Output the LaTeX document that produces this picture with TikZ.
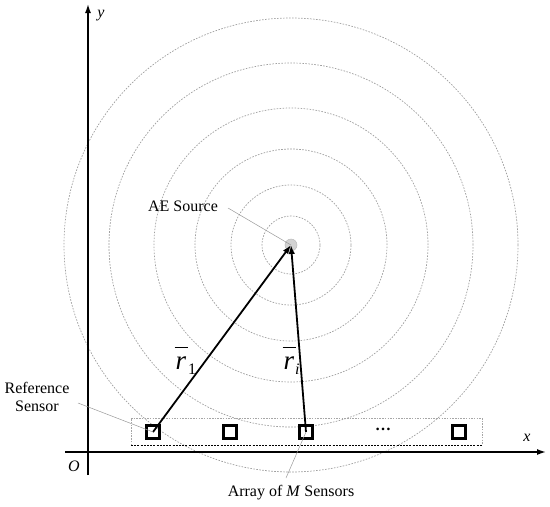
\documentclass[tikz,border=0pt]{standalone}
\usepackage{fontspec}
\setmainfont{Liberation Serif}
\usetikzlibrary{arrows.meta}
\begin{document}
\begin{tikzpicture}[x=1pt,y=-1pt,
  wave/.style={draw=gray!75,line width=0.7pt,dash pattern=on 1.6pt off 1.4pt},
  axis/.style={line width=1.5pt,-{Latex[length=9pt,width=6pt]}},
  ray/.style={line width=1.8pt,-{Latex[length=9pt,width=6.5pt]}},
  leader/.style={draw=gray!80,line width=0.5pt},
  sensorbox/.style={draw,line width=2.2pt,minimum size=13pt,inner sep=0pt},
  lbl/.style={font=\fontsize{16}{18}\selectfont,inner sep=0pt},
  vlbl/.style={font=\fontsize{27}{28}\selectfont\itshape,inner sep=0pt},
  sublbl/.style={font=\fontsize{16}{17}\selectfont,inner sep=0pt},
  vbar/.style={line width=0.8pt}]
\useasboundingbox (0,0) rectangle (550,507);
% source and wavefronts
\node[circle,fill=gray!35,draw=gray!55,line width=0.5pt,minimum size=12pt,inner sep=0pt] (src) at (291,245) {};
\foreach \r in {29,60,96,137,182,227}
  \draw[wave] (src.center) circle[radius=\r pt];
% axes
\coordinate (xs) at (65,452);
\coordinate (xe) at (546,452);
\coordinate (ys) at (88,475);
\coordinate (ye) at (88,4);
\draw[axis] (xs) -- (xe);
\draw[axis] (ys) -- (ye);
\node[lbl] (xl) at (527,438) {\textit{x}};
\node[lbl] (yl) at (101,16) {\textit{y}};
\node[lbl] (ol) at (74,466) {\textit{O}};
% array box
\coordinate (bl) at (131,445);
\coordinate (br) at (482,445);
\coordinate (tr) at (482,418);
\coordinate (tl) at (131,418);
\draw[draw=gray!70,line width=0.5pt,dash pattern=on 1.5pt off 1.2pt] (bl) -- (tl) -- (tr) -- (br);
\draw[line width=0.6pt,dash pattern=on 2pt off 1.2pt] (bl) -- (br);
% sensors
\node[sensorbox] (s1) at (153,432) {};
\node[sensorbox] (s2) at (230,432) {};
\node[sensorbox] (s3) at (306,432) {};
\node[sensorbox] (s4) at (459,432) {};
\node[font=\fontsize{16}{18}\selectfont\bfseries,inner sep=0pt] (dots) at (383,429) {\textbf{…}};
% rays
\draw[ray] (s1.center) -- (src.center);
\draw[ray] (s3.center) -- (src.center);
\node[vlbl,anchor=base] (r1) at (181,369) {r};
\node[sublbl,anchor=base west] (r1s) at ([xshift=1.5pt,yshift=-5pt]r1.base east) {1};
\draw[vbar] ([xshift=-1pt,yshift=9pt]r1.north west) -- ([xshift=2pt,yshift=9pt]r1.north east);
\node[vlbl,anchor=base] (ri) at (289,369) {r};
\node[sublbl,anchor=base west] (ris) at ([xshift=0.5pt,yshift=-5pt]ri.base east) {\textit{i}};
\draw[vbar] ([xshift=-1pt,yshift=9pt]ri.north west) -- ([xshift=2pt,yshift=9pt]ri.north east);
% labels with leaders
\node[lbl] (ae) at (183,206) {AE Source};
\coordinate (aeA) at (228,208);
\draw[leader] (aeA) -- (src.center);
\node[lbl,align=center] (ref) at (37,397) {Reference\\Sensor};
\coordinate (refA) at (78,403);
\draw[leader] (refA) -- (s1.center);
\node[lbl] (arr) at (291,493) {Array of \textit{M} Sensors};
\coordinate (arrA) at (286,478);
\draw[leader] (arrA) -- (s3.center);
\end{tikzpicture}
\end{document}
